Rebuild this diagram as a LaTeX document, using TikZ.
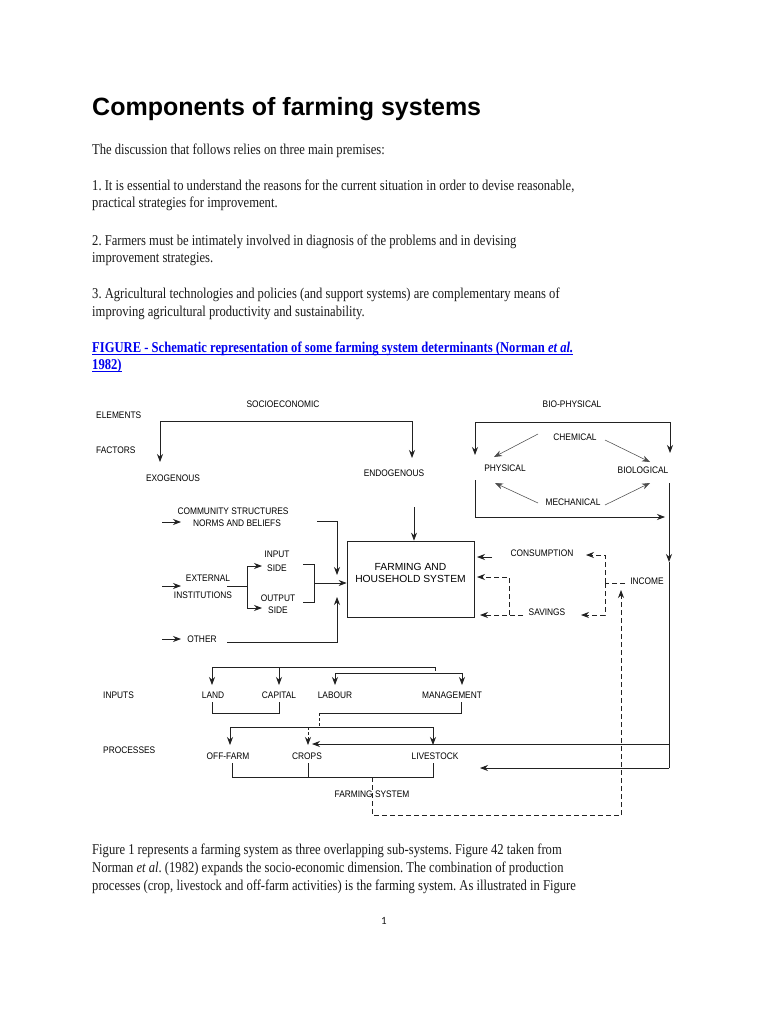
\documentclass[tikz,border=0pt]{standalone}
\usepackage{fontspec}
\setmainfont{Liberation Serif}
\newfontfamily\bodyfont[FakeStretch=0.84]{Liberation Serif}
\newfontfamily\titlefont{Liberation Sans}
\newfontfamily\diagfont[FakeStretch=0.88]{Liberation Sans}
\newfontfamily\pagefont{Carlito}
\usetikzlibrary{arrows.meta}
\definecolor{bodytext}{HTML}{1A1A1A}
\definecolor{linkblue}{HTML}{0000EE}
\definecolor{diagline}{HTML}{222222}
\begin{document}
\frenchspacing
\begin{tikzpicture}[x=1pt,y=-1pt,
  bodyline/.style={anchor=base west,inner sep=0pt,font=\bodyfont\fontsize{15}{18}\selectfont,text=bodytext},
  linkline/.style={anchor=base west,inner sep=0pt,font=\bodyfont\bfseries\fontsize{15}{18}\selectfont,text=linkblue},
  lbl/.style={inner sep=0pt,font=\diagfont\fontsize{9.5}{11}\selectfont,text=black},
  lblw/.style={lbl,anchor=west},
  ln/.style={draw=diagline,line width=0.75pt},
  arr/.style={ln,-{Stealth[length=8pt,width=6pt]}},
  thinarr/.style={draw=diagline!80,line width=0.55pt,-{Stealth[length=8pt,width=6pt]}},
  dln/.style={ln,dash pattern=on 5pt off 3pt},
  darr/.style={dln,-{Stealth[length=8pt,width=6pt]}},
  boxstyle/.style={draw=diagline,line width=0.75pt,minimum width=127pt,minimum height=76pt,inner sep=0pt}
]
\useasboundingbox[fill=white] (0,0) rectangle (768,1024);

% ---------- text ----------
\node[anchor=base west,inner sep=0pt,font=\titlefont\bfseries\fontsize{25}{29}\selectfont] (title) at (92,116) {Components of farming systems};
\node[bodyline] (p0) at (92,155) {The discussion that follows relies on three main premises:};
\node[bodyline] (p1) at (92,191) {1. It is essential to understand the reasons for the current situation in order to devise reasonable,};
\node[bodyline] (p2) at (92,208) {practical strategies for improvement.};
\node[bodyline] (p3) at (92,245) {2. Farmers must be intimately involved in diagnosis of the problems and in devising};
\node[bodyline] (p4) at (92,262) {improvement strategies.};
\node[bodyline] (p5) at (92,298) {3. Agricultural technologies and policies (and support systems) are complementary means of};
\node[bodyline] (p6) at (92,316) {improving agricultural productivity and sustainability.};
\node[linkline] (fig1) at (92,352) {FIGURE - Schematic representation of some farming system determinants (Norman \textit{et al.}\hspace{4pt}};
\node[linkline] (fig2) at (92,369) {1982)};
\draw[linkblue,line width=0.8pt] ([yshift=-2pt]fig1.base west) -- ([yshift=-2pt]fig1.base east);
\draw[linkblue,line width=0.8pt] ([yshift=-2pt]fig2.base west) -- ([yshift=-2pt]fig2.base east);

\node[bodyline] (q1) at (92,854) {Figure 1 represents a farming system as three overlapping sub-systems. Figure 42 taken from};
\node[bodyline] (q2) at (92,872) {Norman \textit{et al}. (1982) expands the socio-economic dimension. The combination of production};
\node[bodyline] (q3) at (92,890) {processes (crop, livestock and off-farm activities) is the farming system. As illustrated in Figure};
\node[inner sep=0pt,font=\pagefont\fontsize{11}{13}\selectfont,text=bodytext] (pg) at (384,921) {1};

% ---------- diagram labels ----------
\node[lbl] (socio) at (283,404) {SOCIOECONOMIC};
\node[lblw] (elements) at (96,415) {ELEMENTS};
\node[lblw] (factors) at (96,450) {FACTORS};
\node[lbl] (exo) at (173,478) {EXOGENOUS};
\node[lbl] (endo) at (394,473) {ENDOGENOUS};
\node[lbl] (biophys) at (572,404) {BIO-PHYSICAL};
\node[lbl] (chem) at (575,437) {CHEMICAL};
\node[lbl] (phys) at (505,468) {PHYSICAL};
\node[lbl] (bio) at (643,470) {BIOLOGICAL};
\node[lbl] (mech) at (573,502) {MECHANICAL};
\node[lbl] (comm1) at (233,511) {COMMUNITY STRUCTURES};
\node[lbl] (comm2) at (237,523) {NORMS AND BELIEFS};
\node[lbl] (ext1) at (208,578) {EXTERNAL};
\node[lbl] (ext2) at (203,595) {INSTITUTIONS};
\node[lbl] (in1) at (277,554) {INPUT};
\node[lbl] (in2) at (277,568) {SIDE};
\node[lbl] (out1) at (278,598) {OUTPUT};
\node[lbl] (out2) at (278,610) {SIDE};
\node[lbl] (other) at (202,639) {OTHER};
\node[boxstyle] (box) at (410.5,579) {};
\node[inner sep=0pt,align=center,font=\titlefont\fontsize{10.3}{12}\selectfont] (boxtxt) at (410.5,573) {FARMING AND\\HOUSEHOLD SYSTEM};
\node[lbl] (cons) at (542,553) {CONSUMPTION};
\node[lbl] (income) at (647,581) {INCOME};
\node[lbl] (savings) at (547,612) {SAVINGS};
\node[lblw] (inputs) at (103,695) {INPUTS};
\node[lblw] (processes) at (103,750) {PROCESSES};
\node[lbl] (land) at (213,695) {LAND};
\node[lbl] (capital) at (279,695) {CAPITAL};
\node[lbl] (labour) at (335,695) {LABOUR};
\node[lbl] (mgmt) at (452,695) {MANAGEMENT};
\node[lbl] (offfarm) at (228,756) {OFF-FARM};
\node[lbl] (crops) at (307,756) {CROPS};
\node[lbl] (livestock) at (435,756) {LIVESTOCK};
\node[lbl] (farmsys) at (372,794) {FARMING SYSTEM};

% ---------- coordinates ----------
\coordinate (sL) at (160,421);
\coordinate (sR) at (412,421);
\coordinate (exoTip) at (160,462);
\coordinate (endoTip) at (412,458);
\coordinate (endoOut) at (414,507);
\coordinate (commOut) at (317,521);
\coordinate (commBend) at (337,521);
\coordinate (commTip) at (337,575);
\coordinate (otherOut) at (227,642);
\coordinate (otherBend) at (337,642);
\coordinate (otherTip) at (337,597);
\coordinate (instOut) at (227,586);
\coordinate (instJ) at (247,586);
\coordinate (instT) at (247,566);
\coordinate (instB) at (247,608);
\coordinate (brT) at (303,564);
\coordinate (brTR) at (314,564);
\coordinate (brBR) at (314,602);
\coordinate (brB) at (303,602);
\coordinate (brM) at (314,583);

% ---------- socio-economic connectors ----------
\draw[ln] (sL) -- (sR);
\draw[arr] (sL) -- (exoTip);
\draw[arr] (sR) -- (endoTip);
\draw[arr] (endoOut) -- (endoOut |- box.north);
\draw[arr] (162,522) -- (181,522);
\draw[arr] (162,586) -- (181,586);
\draw[arr] (162,639) -- (181,639);
\draw[arr] (commOut) -- (commBend) -- (commTip);
\draw[arr] (otherOut) -- (otherBend) -- (otherTip);
\draw[ln] (instOut) -- (instJ);
\draw[ln] (instT) -- (instB);
\draw[arr] (instT) -- (262,566);
\draw[arr] (instB) -- (262,608);
\draw[ln] (brT) -- (brTR) -- (brBR) -- (brB);
\draw[arr] (brM) -- (brM -| box.west);

% ---------- bio-physical connectors ----------
\draw[ln] (475,422) -- (670,422);
\draw[arr] (475,422) -- (475,455);
\draw[arr] (670,422) -- (670,453);
\draw[thinarr] (538,434) -- (494,457);
\draw[thinarr] (605,440) -- (650,462);
\draw[thinarr] (538,503) -- (495,483);
\draw[thinarr] (605,505) -- (650,483);
\draw[arr] (475,480) -- (475,517) -- (665,517);
\draw[arr] (669,483) -- (669,562);
\draw[ln] (669,562) -- (669,768);
\draw[arr] (669,768) -- (480,768);
\draw[arr] (669,744) -- (312,744);

% ---------- consumption / savings / income ----------
\draw[arr] (492,557) -- (477,557);
\draw[dln] (625,583) -- (605,583);
\draw[darr] (605,583) -- (605,555) -- (586,555);
\draw[darr] (605,583) -- (605,615) -- (581,615);
\draw[darr] (523,615) -- (480,615);
\draw[darr] (509,615) -- (509,577) -- (477,577);
\draw[darr] (621,815) -- (621,590);
\draw[dln] (372,777) -- (372,815) -- (621,815);

% ---------- inputs ----------
\draw[ln] (212,667) -- (435,667) -- (435,671);
\draw[arr] (212,667) -- (212,685);
\draw[arr] (279,667) -- (279,685);
\draw[ln] (335,673) -- (462,673);
\draw[arr] (335,673) -- (335,685);
\draw[arr] (462,673) -- (462,685);
\draw[ln] (212,702) -- (212,713) -- (279,713) -- (279,702);
\draw[ln] (461,702) -- (461,713) -- (319,713);
\draw[ln,densely dashed] (319,713) -- (319,727);

% ---------- processes ----------
\draw[ln] (230,727) -- (433,727);
\draw[arr] (230,727) -- (230,745);
\draw[arr] (433,727) -- (433,745);
\draw[arr,densely dashed] (308,727) -- (308,745);
\draw[ln] (232,763) -- (232,777) -- (433,777) -- (433,763);
\draw[ln] (308,763) -- (308,777);
\end{tikzpicture}
\end{document}
